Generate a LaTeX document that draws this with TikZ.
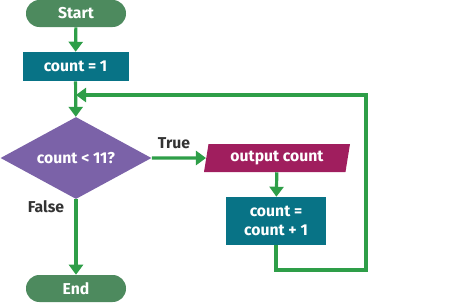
\documentclass[tikz,border=0pt]{standalone}
\usepackage{fontspec}
\setmainfont{Fira Sans}
\usetikzlibrary{shapes.geometric, arrows.meta}
\definecolor{termgreen}{RGB}{77,138,94}
\definecolor{procteal}{RGB}{8,115,134}
\definecolor{decpurple}{RGB}{123,98,168}
\definecolor{iomagenta}{RGB}{160,30,94}
\definecolor{flowgreen}{RGB}{46,158,72}
\definecolor{labelgray}{RGB}{51,51,51}

\begin{document}
\begin{tikzpicture}[
    x=0.75pt, y=-0.75pt,
    every node/.style={font=\bfseries\fontsize{11.8}{14}\selectfont, text=white, inner sep=0pt},
    terminal/.style={rectangle, rounded corners=10pt, fill=termgreen,
      minimum width=100*0.75pt, minimum height=27*0.75pt},
    process/.style={rectangle, fill=procteal,
      minimum width=106*0.75pt, minimum height=29*0.75pt},
    decision/.style={diamond, fill=decpurple, aspect=1.84,
      minimum width=151*0.75pt, minimum height=82*0.75pt},
    inout/.style={trapezium, trapezium left angle=72, trapezium right angle=108,
      trapezium stretches body, fill=iomagenta,
      minimum width=146*0.75pt, minimum height=28*0.75pt},
    branch/.style={text=labelgray},
    flow/.style={draw=flowgreen, line width=2.4pt,
      -{Triangle[width=10.5pt, length=7.5pt]}},
  ]
    \useasboundingbox (0,0) rectangle (464,304);

    % Ablauf links
    \node[terminal] (start) at (76,13.5)  {Start};
    \node[process]  (init)  at (75.5,66.5) {count = 1};
    \node[decision] (cond)  at (76,158)   {count < 11?};
    \node[terminal] (stop)  at (76,288.5) {End};

    % Schleifenrumpf rechts
    \node[inout]   (out)  at (277,158) {output count};
    \node[process, minimum width=100*0.75pt, minimum height=48*0.75pt,
      align=center] (incr) at (276,221) {count =\\count + 1};

    % Verzweigungen
    \node[branch] (truelbl)  at (174,143.5) {True};
    \node[branch] (falselbl) at (46,207)    {False};

    % Hilfspunkte der Schleife
    \coordinate (join)   at (76,95);
    \coordinate (loopbr) at (366,270);

    % Verbindungen
    \draw[flow] (start) -- (init);
    \draw[flow] (init) -- (cond);
    \draw[flow] (cond) -- (out);
    \draw[flow] (out) -- (incr);
    \draw[flow] (cond) -- (stop);
    \draw[flow] (incr.south) |- (loopbr) |- (join);
  \end{tikzpicture}
\end{document}
